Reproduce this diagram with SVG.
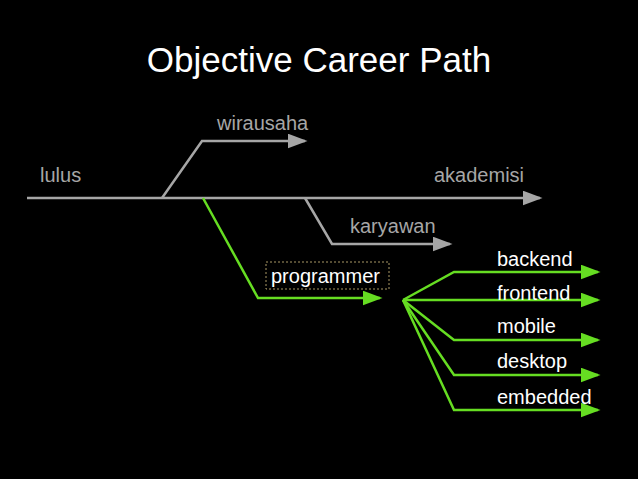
<svg xmlns="http://www.w3.org/2000/svg" width="638" height="479" viewBox="0 0 638 479">
<style>
text{font-family:"Liberation Sans",Arial,sans-serif}
.g{fill:none;stroke:#a6a6a6;stroke-width:2.5}
.v{fill:none;stroke:#66dd22;stroke-width:2.5}
.gl{fill:#a6a6a6;font-size:20px}
.wl{fill:#fff;font-size:20px}
</style>
<defs>
<marker id="ag" markerWidth="8" markerHeight="6" refX="7" refY="3" orient="auto" markerUnits="strokeWidth"><path d="M0,0L8,3L0,6z" fill="#a6a6a6"/></marker>
<marker id="av" markerWidth="8" markerHeight="6" refX="7" refY="3" orient="auto" markerUnits="strokeWidth"><path d="M0,0L8,3L0,6z" fill="#66dd22"/></marker>
</defs>
<rect width="638" height="479" fill="#000"/>
<text x="319" y="72" font-size="35" fill="#fff" text-anchor="middle">Objective Career Path</text>
<g id="connectors">
<path class="g" d="M27,198H540" marker-end="url(#ag)"/>
<path class="g" d="M162,198L202,141H305" marker-end="url(#ag)"/>
<path class="g" d="M305,198L332,244H450" marker-end="url(#ag)"/>
<path class="v" d="M203,198L258,298H380" marker-end="url(#av)"/>
<path class="v" d="M403,300L454,272H598" marker-end="url(#av)"/>
<path class="v" d="M403,300H598" marker-end="url(#av)"/>
<path class="v" d="M403,300L454,340H598" marker-end="url(#av)"/>
<path class="v" d="M403,300L454,375H598" marker-end="url(#av)"/>
<path class="v" d="M403,300L454,410H598" marker-end="url(#av)"/>
</g>
<g id="lulus"><text class="gl" x="40" y="182">lulus</text></g>
<g id="wirausaha"><text class="gl" x="217" y="130">wirausaha</text></g>
<g id="akademisi"><text class="gl" x="434" y="182">akademisi</text></g>
<g id="karyawan"><text class="gl" x="350" y="233">karyawan</text></g>
<g id="programmer"><rect x="266" y="262" width="123" height="27" fill="none" stroke="#aa9966" stroke-width="1" stroke-dasharray="2,2"/><text class="wl" x="271" y="283">programmer</text></g>
<g id="backend"><text class="wl" x="497" y="266">backend</text></g>
<g id="frontend"><text class="wl" x="497" y="300">frontend</text></g>
<g id="mobile"><text class="wl" x="497" y="333">mobile</text></g>
<g id="desktop"><text class="wl" x="497" y="368">desktop</text></g>
<g id="embedded"><text class="wl" x="497" y="404">embedded</text></g>
</svg>
